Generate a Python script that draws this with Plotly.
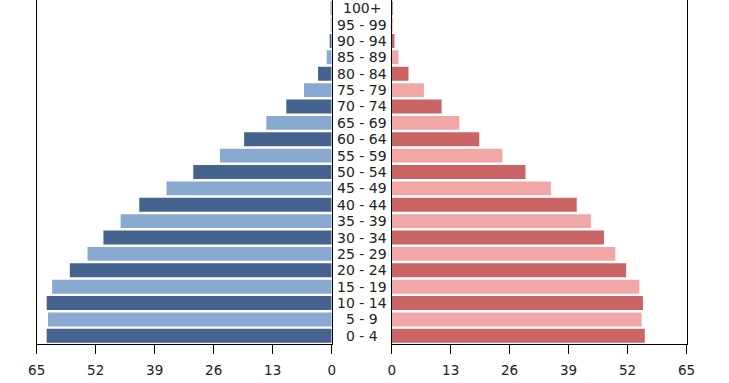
import plotly.graph_objects as go

age_groups = ["0 - 4", "5 - 9", "10 - 14", "15 - 19", "20 - 24", "25 - 29", "30 - 34",
              "35 - 39", "40 - 44", "45 - 49", "50 - 54", "55 - 59", "60 - 64", "65 - 69",
              "70 - 74", "75 - 79", "80 - 84", "85 - 89", "90 - 94", "95 - 99", "100+"]
male = [62.8, 62.5, 62.8, 61.6, 57.7, 53.8, 50.3, 46.5, 42.4, 36.4, 30.5,
        24.6, 19.3, 14.4, 10.0, 6.1, 3.0, 1.1, 0.4, 0.15, 0.05]
female = [55.8, 55.1, 55.4, 54.6, 51.7, 49.3, 46.8, 43.9, 40.8, 35.1, 29.5,
          24.4, 19.3, 14.9, 11.0, 7.1, 3.7, 1.5, 0.6, 0.1, 0.1]
tick_vals = [0, 13, 26, 39, 52, 65]

male_colors = ["#44648f", "#88a9d0"]
female_colors = ["#cb6565", "#f2a7a7"]

fig = go.Figure()
fig.add_trace(go.Bar(
    y=age_groups, x=male, orientation="h", xaxis="x", yaxis="y",
    marker=dict(color=[male_colors[i % 2] for i in range(len(male))], line=dict(width=0)),
    showlegend=False, hoverinfo="x+y"))
fig.add_trace(go.Bar(
    y=age_groups, x=female, orientation="h", xaxis="x2", yaxis="y2",
    marker=dict(color=[female_colors[i % 2] for i in range(len(female))], line=dict(width=0)),
    showlegend=False, hoverinfo="x+y"))

W, H = 729, 383
axis_font = dict(family="DejaVu Sans", size=13.5, color="#222222")
common_x = dict(showline=True, linecolor="black", linewidth=1.3, ticks="outside",
                ticklen=9, tickwidth=1.1, tickcolor="black", showgrid=False,
                zeroline=False, tickvals=tick_vals, ticktext=[str(v) for v in tick_vals],
                tickfont=axis_font, ticklabelstandoff=5, fixedrange=True)
common_y = dict(showline=True, mirror=True, linecolor="black", linewidth=1.3,
                showticklabels=False, ticks="", showgrid=False, zeroline=False,
                type="category", categoryorder="array", categoryarray=age_groups,
                range=[-0.5, len(age_groups) - 0.5], fixedrange=True)

fig.update_layout(
    width=W, height=H,
    margin=dict(l=0, r=0, t=0, b=38.5, autoexpand=False),
    paper_bgcolor="white", plot_bgcolor="white",
    bargap=0.15,
    xaxis=dict(domain=[36.7 / W, 331.7 / W], range=[65, 0], anchor="y", **common_x),
    xaxis2=dict(domain=[391.7 / W, 686.5 / W], range=[0, 65], anchor="y2", **common_x),
    yaxis=dict(anchor="x", **common_y),
    yaxis2=dict(anchor="x2", **common_y),
)

for g in age_groups:
    fig.add_annotation(x=362 / W, xref="paper", y=g, yref="y", text=g,
                       showarrow=False, xanchor="center", yanchor="middle",
                       font=dict(family="DejaVu Sans", size=14, color="#222222"))

fig.write_html("out.html", config={"displayModeBar": False},
               post_script="document.body.style.margin='0px';document.body.style.overflow='hidden';")
